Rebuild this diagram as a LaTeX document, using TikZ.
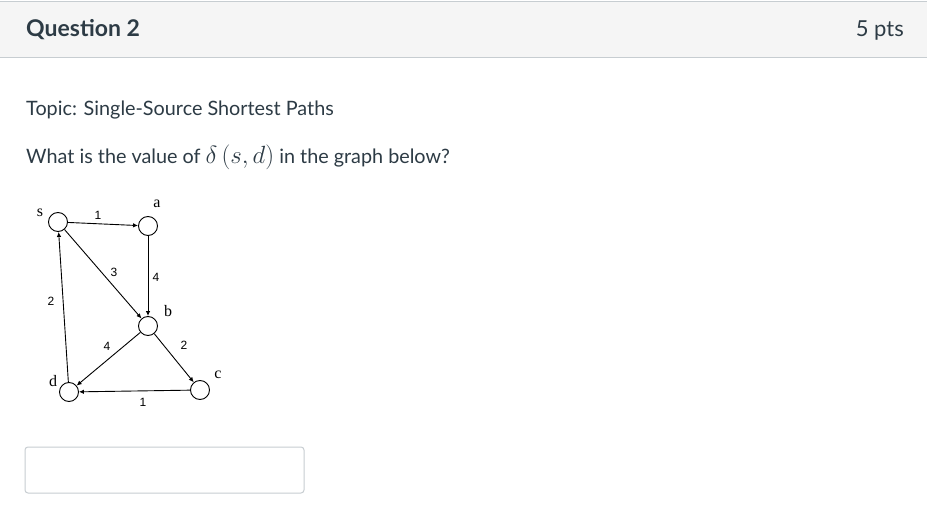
\documentclass[tikz,border=0pt]{standalone}
\usepackage{fontspec}
\setmainfont{Lato}
\newfontfamily\vtxfont{Liberation Serif}
\newfontfamily\wtfont{Liberation Sans}
\usetikzlibrary{arrows.meta}
\definecolor{canvastext}{HTML}{2D3B45}
\definecolor{headerbg}{HTML}{F5F5F5}
\definecolor{headerline}{HTML}{C7CDD1}
\tikzset{
  vtx/.style={draw, circle, line width=0.9pt, minimum size=19pt, inner sep=0pt},
  vlabel/.style={font=\vtxfont\fontsize{16}{16}\selectfont},
  wlabel/.style={font=\wtfont\fontsize{12}{12}\selectfont},
  edge/.style={line width=0.9pt, -{Latex[length=5pt,width=4.5pt]}},
  pagetext/.style={text=canvastext, inner sep=0pt}
}

\begin{document}
\begin{tikzpicture}[x=1pt, y=-1pt]
		%%%%% START %%%%%
		\useasboundingbox[fill=white] (0, 0) rectangle (927, 521);
		
		\fill[headerbg] (0, 2) rectangle (927, 58);
		\draw[headerline, line width=1pt] (0, 2) -- (927, 2);
		\draw[headerline, line width=1pt] (0, 58) -- (927, 58);
		\node[pagetext, anchor=base west, font=\bfseries\fontsize{23}{23}\selectfont] (qtitle) at (26, 37) {Question 2};
		\node[pagetext, anchor=base east, font=\fontsize{22}{22}\selectfont] (qpts) at (904, 37) {5 pts};
		
		\node[pagetext, anchor=base west, font=\fontsize{19.8}{20}\selectfont] (topic) at (26, 116) {Topic: Single-Source Shortest Paths};
		\node[pagetext, anchor=base west, font=\fontsize{19.8}{20}\selectfont] (ask) at (26, 164) {What is the value of {\fontsize{23}{23}\selectfont$\delta\left(s,d\right)$} in the graph below?};
		
		% graph
		\node[vtx] (s) at (58, 222) {};
		\node[vtx] (a) at (148, 226) {};
		\node[vtx] (b) at (148, 326) {};
		\node[vtx] (c) at (200, 390) {};
		\node[vtx] (d) at (69, 392) {};
		
		\node[vlabel] (ls) at (40, 213) {s};
		\node[vlabel] (la) at (157, 204) {a};
		\node[vlabel] (lb) at (168, 311) {b};
		\node[vlabel] (lc) at (218, 375) {c};
		\node[vlabel] (ld) at (53, 381) {d};
		
		\draw[edge] (s) -- (a);
		\draw[edge] (a) -- (b);
		\draw[edge] (s) -- (b);
		\draw[edge] (b) -- (d);
		\draw[edge] (b) -- (c);
		\draw[edge] (c) -- (d);
		\draw[edge] (d) -- (s);
		
		\node[wlabel] (wsa) at (98, 215) {1};
		\node[wlabel] (wsb) at (114, 272) {3};
		\node[wlabel] (wab) at (156, 277) {4};
		\node[wlabel] (wds) at (51, 301) {2};
		\node[wlabel] (wbd) at (107, 346) {4};
		\node[wlabel] (wbc) at (184, 345) {2};
		\node[wlabel] (wcd) at (143, 402) {1};
		
		% answer box
		\draw[headerline, line width=1pt, rounded corners=3pt] (25, 447) rectangle (304, 493);
		%%%%% END %%%%%
\end{tikzpicture}
\end{document}
